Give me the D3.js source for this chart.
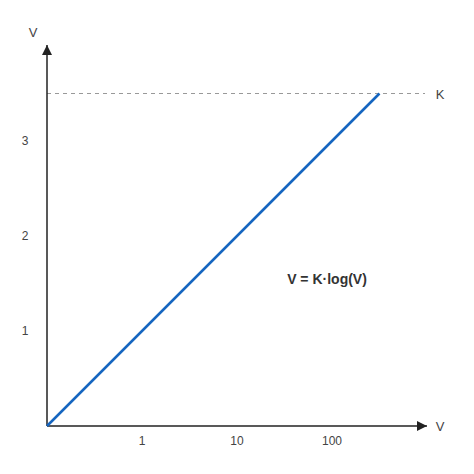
<!DOCTYPE html>
<html><head><meta charset="utf-8">
<script src="https://cdn.jsdelivr.net/npm/d3@7"></script>
<style>body{margin:0;background:#fff}</style>
</head><body><div id="chart"></div>
<script>
// data
const lineX = [0.1, 316];
const lineY = [0, 3.5];
const xTicks = [1, 10, 100];
const yTicks = [1, 2, 3];
const kLevel = 3.5;

const W = 474, H = 474;
const ox = 47, oy = 426;
const svg = d3.select("#chart").append("svg").attr("width", W).attr("height", H)
  .style("font-family", "Liberation Sans, Arial, sans-serif");

const x = d3.scaleLog().domain([0.1, 1000]).range([ox, ox + 380]);
const y = d3.scaleLinear().domain([0, 3]).range([oy, oy - 285]);

svg.append("defs").append("marker").attr("id", "arr")
  .attr("viewBox", "0 0 10 10").attr("refX", 10).attr("refY", 5)
  .attr("markerWidth", 10).attr("markerHeight", 10).attr("markerUnits", "userSpaceOnUse")
  .attr("orient", "auto")
  .append("path").attr("d", "M0,0L10,5L0,10z").attr("fill", "#222");

// dashed K line
svg.append("line").attr("x1", ox).attr("x2", 425)
  .attr("y1", y(kLevel)).attr("y2", y(kLevel))
  .attr("stroke", "#999").attr("stroke-dasharray", "4,4").attr("stroke-width", 1);
svg.append("text").attr("x", 440).attr("y", y(kLevel) + 5).attr("text-anchor", "middle")
  .attr("font-size", 13).attr("fill", "#444").text("K");

// axes
svg.append("line").attr("x1", ox).attr("y1", oy).attr("x2", 427).attr("y2", oy)
  .attr("stroke", "#222").attr("stroke-width", 1.5).attr("marker-end", "url(#arr)");
svg.append("line").attr("x1", ox).attr("y1", oy).attr("x2", ox).attr("y2", 45)
  .attr("stroke", "#222").attr("stroke-width", 1.5).attr("marker-end", "url(#arr)");

svg.selectAll(".xt").data(xTicks).join("text")
  .attr("x", d => x(d)).attr("y", oy + 19).attr("text-anchor", "middle")
  .attr("font-size", 12).attr("fill", "#444").text(d => d);
svg.selectAll(".yt").data(yTicks).join("text")
  .attr("x", ox - 22).attr("y", d => y(d) + 4).attr("text-anchor", "middle")
  .attr("font-size", 12).attr("fill", "#444").text(d => d);

svg.append("text").attr("x", 33).attr("y", 37).attr("text-anchor", "middle")
  .attr("font-size", 13).attr("fill", "#444").text("V");
svg.append("text").attr("x", 440).attr("y", 431).attr("text-anchor", "middle")
  .attr("font-size", 13).attr("fill", "#444").text("V");

// curve
svg.append("path").datum(lineX.map((v, i) => [v, lineY[i]]))
  .attr("d", d3.line().x(d => x(d[0])).y(d => y(d[1])))
  .attr("fill", "none").attr("stroke", "#1565c0").attr("stroke-width", 2.5);

svg.append("text").attr("x", 327).attr("y", 284).attr("text-anchor", "middle")
  .attr("font-size", 14).attr("font-weight", "bold").attr("fill", "#333").text("V = K·log(V)");
</script></body></html>
